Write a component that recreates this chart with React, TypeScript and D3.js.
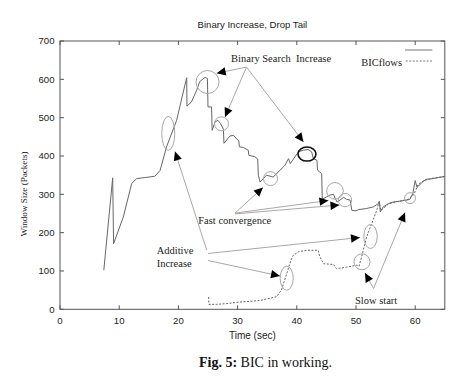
import React from 'react';
import * as d3 from 'd3';

const W = 474;
const H = 382;

const title = 'Binary Increase, Drop Tail';
const xLabel = 'Time (sec)';
const yLabel = 'Window Size (Packets)';
const captionBold = 'Fig. 5:';
const captionText = ' BIC in working.';
const xTicks = [0, 10, 20, 30, 40, 50, 60];
const yTicks = [0, 100, 200, 300, 400, 500, 600, 700];
const legendLabels = ['', 'BICflows'];

// flow 1 (solid): [time (s), window (packets)]
const flow1: [number, number][] = [
  [7.4, 102], [8.9, 343], [9.05, 171], [10.7, 241], [12.1, 328], [12.95, 341], [14.5, 344],
  [16.0, 347], [16.9, 362], [18.0, 424], [19.7, 493], [21.1, 585], [21.4, 604], [21.45, 530],
  [22.2, 541], [23.1, 572], [23.6, 594], [24.5, 605], [24.9, 602], [25.0, 528], [25.6, 528],
  [25.7, 467], [26.2, 489], [26.7, 493], [27.1, 485], [27.6, 470], [27.7, 433], [28.7, 452],
  [29.3, 454], [29.8, 445], [30.2, 440], [30.3, 424], [31.0, 422], [31.8, 415], [31.9, 402],
  [32.9, 398], [33.4, 392], [33.5, 350], [33.8, 332], [34.9, 350], [36.0, 345], [37.2, 363],
  [38.0, 376], [38.6, 393], [38.9, 380], [39.7, 398], [40.3, 411], [41.1, 415], [41.9, 417],
  [42.5, 411], [42.8, 393], [43.4, 389], [43.5, 363], [44.2, 354], [44.3, 287], [45.0, 293],
  [45.6, 298], [46.2, 300], [46.5, 289], [46.8, 280], [47.3, 285], [47.9, 292], [48.4, 287],
  [49.0, 285], [49.3, 258], [50.0, 257], [50.4, 260], [51.8, 263], [52.9, 267], [53.8, 276],
  [53.95, 282], [54.1, 254], [54.6, 267], [55.5, 276], [56.3, 280], [57.4, 282], [58.6, 285],
  [59.1, 287], [59.6, 302], [60.0, 336], [60.3, 318], [61.1, 330], [61.8, 339], [63.0, 341],
  [64.0, 344], [65.0, 347],
];

// flow 2 (dashed)
const flow2: [number, number][] = [
  [25.1, 32], [25.15, 13], [26.5, 13], [28.2, 15], [30.4, 19], [31.5, 20], [33.8, 23],
  [35.8, 30], [36.6, 33], [37.4, 50], [38.3, 93], [39.0, 128], [39.4, 141], [40.3, 150],
  [41.7, 154], [43.6, 154], [43.9, 137], [44.5, 119], [46.2, 117], [46.7, 106], [48.4, 110],
  [50.1, 115], [50.5, 112], [50.8, 128], [51.8, 189], [53.5, 258], [53.9, 280], [54.2, 258],
  [55.5, 275], [57.0, 281], [58.8, 287], [59.8, 300], [60.5, 326], [61.5, 336], [63.0, 342],
  [65.0, 346],
];

// annotation ellipses: centre in data units, radii in px
const ellipses = [
  { t: 24.92, w: 593, rx: 11.5, ry: 11.5, dark: false },
  { t: 27.28, w: 484, rx: 7, ry: 7, dark: false },
  { t: 41.72, w: 405, rx: 9, ry: 7, dark: true },
  { t: 35.56, w: 341, rx: 7, ry: 7, dark: false },
  { t: 46.45, w: 309, rx: 8.3, ry: 8.3, dark: false },
  { t: 48.14, w: 285, rx: 6.7, ry: 6.7, dark: false },
  { t: 18.29, w: 459, rx: 6.5, ry: 17, dark: false },
  { t: 52.45, w: 190, rx: 6.7, ry: 12, dark: false },
  { t: 38.29, w: 81, rx: 6.5, ry: 12, dark: false },
  { t: 51.01, w: 124, rx: 8, ry: 8, dark: false },
  { t: 59.12, w: 290, rx: 5.5, ry: 5.5, dark: false },
];

// annotation arrows: [from t, from w, to t, to w]
const arrows: [number, number, number, number][] = [
  [31.5, 632, 26.47, 615.7],
  [31.5, 632, 27.87, 501.7],
  [31.5, 632, 41.13, 436.5],
  [29.56, 251, 34.29, 317.8],
  [29.56, 251, 45.35, 283.9],
  [29.56, 249, 47.21, 272.1],
  [24.78, 154.7, 19.43, 411.7],
  [25.0, 145.6, 50.68, 187.3],
  [25.0, 127.3, 37.16, 86.9],
  [52.96, 54.3, 51.52, 94.7],
  [52.96, 54.3, 58.28, 252.6],
];

const notes = [
  { t: 28.9, w: 645, text: 'Binary Search  Increase' },
  { t: 23.36, w: 222.5, text: 'Fast convergence' },
  { t: 16.33, w: 143.5, text: 'Additive' },
  { t: 16.33, w: 111.1, text: 'Increase' },
  { t: 49.83, w: 13.8, text: 'Slow start' },
];

const SANS = 'Liberation Sans, Arial, Helvetica, sans-serif';
const SERIF = 'Liberation Serif, Times New Roman, serif';

export default function App() {
  const x = d3.scaleLinear().domain([0, 65]).range([60, 444.8]);
  const y = d3.scaleLinear().domain([0, 700]).range([309.3, 41]);
  const line = d3.line<[number, number]>().x((d) => x(d[0])).y((d) => y(d[1]));
  const frame = '#555';
  const annot = '#a8a8a8';

  const arrowHead = (x1: number, y1: number, x2: number, y2: number) => {
    const a = Math.atan2(y2 - y1, x2 - x1);
    const L = 9, hw = 4.2;
    const bx = x2 - L * Math.cos(a), by = y2 - L * Math.sin(a);
    const px = -Math.sin(a) * hw, py = Math.cos(a) * hw;
    return `M${x2},${y2}L${bx + px},${by + py}L${bx - px},${by - py}Z`;
  };

  return (
    <svg width={W} height={H} style={{ position: 'absolute', left: 0, top: 0, background: '#fff' }}>
      <rect x={0} y={0} width={W} height={H} fill="#fff" />
      <text x={252.4} y={27.5} textAnchor="middle" fontFamily={SANS} fontSize={9.6} fill="#222">{title}</text>

      {/* ticks */}
      {xTicks.map((t) => (
        <g key={'x' + t}>
          <line x1={x(t)} x2={x(t)} y1={y(0)} y2={y(0) - 4} stroke={frame} />
          <line x1={x(t)} x2={x(t)} y1={y(700)} y2={y(700) + 4} stroke={frame} />
          <text x={x(t)} y={324} textAnchor="middle" fontFamily={SANS} fontSize={9.6} fill="#222">{t}</text>
        </g>
      ))}
      {yTicks.map((v) => (
        <g key={'y' + v}>
          <line x1={x(0)} x2={x(0) + 4} y1={y(v)} y2={y(v)} stroke={frame} />
          <line x1={x(65)} x2={x(65) - 4} y1={y(v)} y2={y(v)} stroke={frame} />
          <text x={54.5} y={y(v) + 3.4} textAnchor="end" fontFamily={SANS} fontSize={9.6} fill="#222">{v}</text>
        </g>
      ))}
      <rect x={x(0)} y={y(700)} width={x(65) - x(0)} height={y(0) - y(700)} fill="none" stroke={frame} strokeWidth={1} />

      <text x={252.4} y={339} textAnchor="middle" fontFamily={SANS} fontSize={10} fill="#222">{xLabel}</text>
      <text transform="translate(27,194) rotate(-90)" textAnchor="middle" fontFamily={SERIF} fontSize={9.1} fill="#222">{yLabel}</text>

      {/* data */}
      <path d={line(flow1) || ''} fill="none" stroke="#666" strokeWidth={1} />
      <path d={line(flow2) || ''} fill="none" stroke="#666" strokeWidth={1} strokeDasharray="2,1.5" />

      {/* legend */}
      <line x1={405} x2={432.3} y1={50} y2={50} stroke="#777" strokeWidth={1} />
      <text x={402} y={54} textAnchor="end" fontFamily={SERIF} fontSize={10.5} fill="#222">{legendLabels[0]}</text>
      <line x1={405.7} x2={432} y1={61} y2={61} stroke="#777" strokeWidth={1} strokeDasharray="2,1.5" />
      <text x={402} y={65.7} textAnchor="end" fontFamily={SERIF} fontSize={10.5} fill="#222">{legendLabels[1]}</text>

      {/* annotations */}
      {ellipses.map((e, i) => (
        <ellipse key={'e' + i} cx={x(e.t)} cy={y(e.w)} rx={e.rx} ry={e.ry} fill="none"
          stroke={e.dark ? '#111' : annot} strokeWidth={e.dark ? 1.6 : 1} />
      ))}
      {arrows.map((a, i) => {
        const x1 = x(a[0]), y1 = y(a[1]), x2 = x(a[2]), y2 = y(a[3]);
        return (
          <g key={'a' + i}>
            <line x1={x1} y1={y1} x2={x2} y2={y2} stroke={annot} strokeWidth={1} />
            <path d={arrowHead(x1, y1, x2, y2)} fill="#000" />
          </g>
        );
      })}
      {notes.map((n, i) => (
        <text key={'n' + i} x={x(n.t)} y={y(n.w)} fontFamily={SERIF} fontSize={10.5} fill="#222"
          style={{ whiteSpace: 'pre' }}>{n.text}</text>
      ))}

      <text x={265.5} y={367} textAnchor="middle" fontFamily={SERIF} fontSize={14} fill="#111">
        <tspan fontWeight="bold">{captionBold}</tspan>
        <tspan>{captionText}</tspan>
      </text>
    </svg>
  );
}
